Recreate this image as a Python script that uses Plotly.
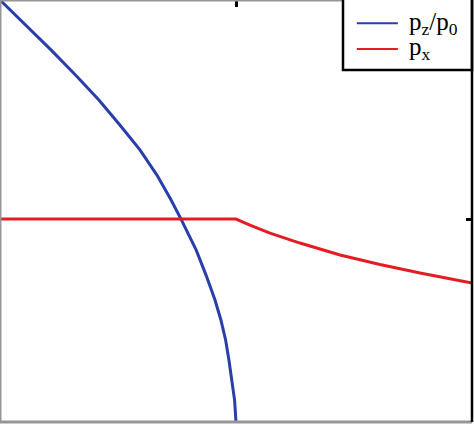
import plotly.graph_objects as go

# Blue curve: p_z / p_0
blue_x = [0.0, 0.108, 0.216, 0.320, 0.419, 0.508, 0.593, 0.665, 0.725, 0.767,
          0.801, 0.831, 0.873, 0.911, 0.936, 0.956, 0.970, 0.983, 0.994, 1.0]
blue_y = [2.080, 1.957, 1.834, 1.710, 1.587, 1.464, 1.341, 1.217, 1.094, 1.000,
          0.922, 0.848, 0.724, 0.601, 0.503, 0.404, 0.306, 0.207, 0.108, 0.0]

# Red curve: p_x
red_x = [0.0, 1.0, 1.059, 1.144, 1.271, 1.441, 1.610, 1.780, 2.0]
red_y = [1.0, 1.0, 0.970, 0.931, 0.882, 0.823, 0.776, 0.734, 0.685]

series_names = ["p<sub>z</sub>/p<sub>0</sub>", "p<sub>x</sub>"]

BLUE = "rgb(40,62,168)"
RED = "rgb(228,28,36)"
GRAY = "rgb(150,150,150)"
FONT = "Liberation Serif"

fig = go.Figure()
fig.add_trace(go.Scatter(x=blue_x, y=blue_y, mode="lines", name=series_names[0],
                         line=dict(color=BLUE, width=3), showlegend=False))
fig.add_trace(go.Scatter(x=red_x, y=red_y, mode="lines", name=series_names[1],
                         line=dict(color=RED, width=3), showlegend=False))

# legend geometry (paper coords)
lx0, lx1, ly0, ly1 = 0.7267, 1.0, 0.834, 1.01
sx0, sx1, tx = 0.756, 0.843, 0.862
rows = [0.945, 0.884]

shapes = [
    dict(type="line", xref="paper", yref="paper", x0=0, x1=0, y0=0, y1=1,
         line=dict(color=GRAY, width=3), layer="above"),
    dict(type="line", xref="paper", yref="paper", x0=0, x1=1, y0=1, y1=1,
         line=dict(color=GRAY, width=3), layer="above"),
    dict(type="line", xref="paper", yref="paper", x0=0, x1=1, y0=0, y1=0,
         line=dict(color=GRAY, width=3), layer="above"),
    dict(type="rect", xref="paper", yref="paper", x0=lx0, x1=lx1, y0=ly0, y1=ly1,
         fillcolor="white", line=dict(color="black", width=2.5), layer="above"),
    dict(type="line", xref="paper", yref="paper", x0=1, x1=1, y0=0, y1=1,
         line=dict(color="black", width=2.5), layer="above"),
    dict(type="line", xref="paper", yref="paper", x0=sx0, x1=sx1, y0=rows[0], y1=rows[0],
         line=dict(color=BLUE, width=2), layer="above"),
    dict(type="line", xref="paper", yref="paper", x0=sx0, x1=sx1, y0=rows[1], y1=rows[1],
         line=dict(color=RED, width=2), layer="above"),
]

annotations = [
    dict(xref="paper", yref="paper", x=tx, y=rows[i], xanchor="left", yanchor="middle",
         text=series_names[i], showarrow=False,
         font=dict(family=FONT, size=25, color="black"))
    for i in range(2)
]

fig.update_layout(
    width=474, height=424,
    margin=dict(l=0, r=2, t=0, b=2, autoexpand=False),
    paper_bgcolor="white", plot_bgcolor="white",
    font=dict(family=FONT, size=20, color="black"),
    showlegend=False,
    xaxis=dict(range=[0, 2], side="top", showgrid=False, zeroline=False, automargin=False,
               tickvals=[1], ticks="inside", ticklen=7, tickwidth=3, tickcolor="black",
               showticklabels=False, showline=False),
    yaxis=dict(range=[0, 2.08], side="right", showgrid=False, zeroline=False, automargin=False,
               tickvals=[1], ticks="inside", ticklen=6, tickwidth=3, tickcolor="black",
               showticklabels=False, showline=False),
    shapes=shapes,
    annotations=annotations,
)

fig.write_html("out.html", config={"displayModeBar": False},
               post_script="document.body.style.margin='0';document.body.style.padding='0';")
